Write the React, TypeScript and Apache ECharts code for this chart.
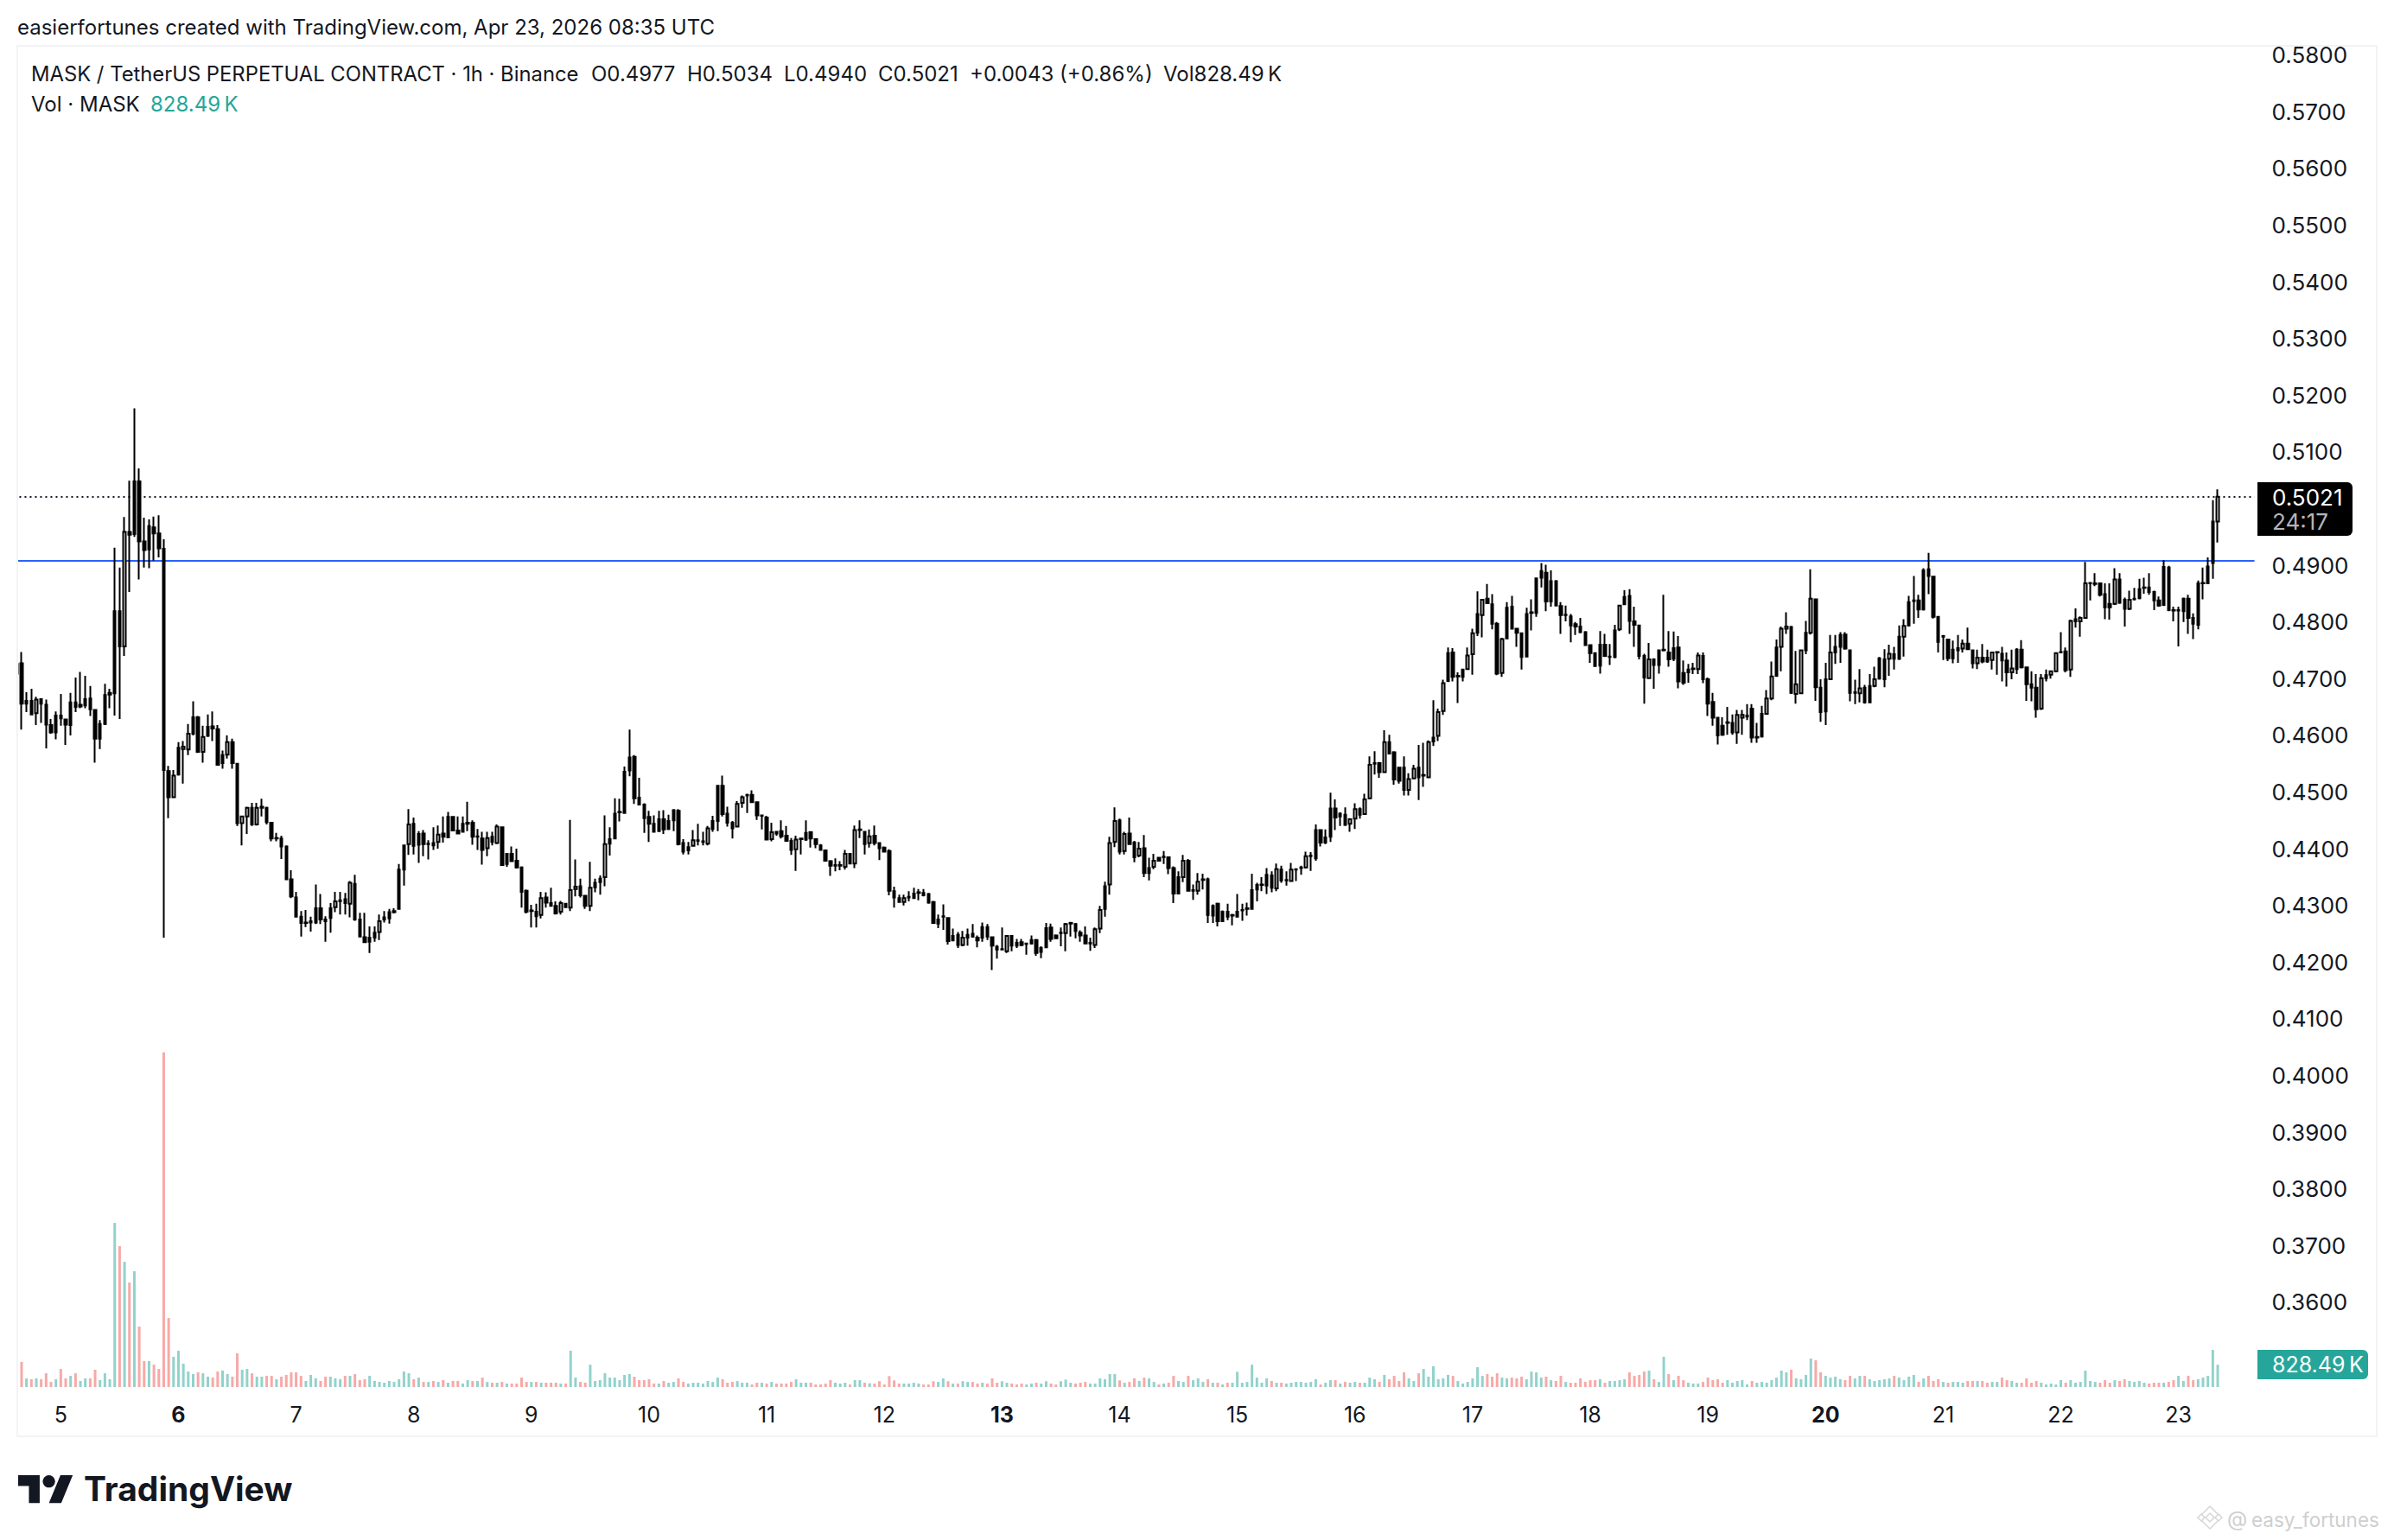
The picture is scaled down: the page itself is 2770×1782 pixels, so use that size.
import React, { useEffect, useRef } from "react";
import * as echarts from "echarts";

// Prices are in units of 0.0001. Each candle: [open, close, low, high]. One array per calendar day (hourly bars).
const PRICE_UNIT = 0.0001;
const apr04 = [[4726,4709,4644,4736],[4727,4656,4610,4747],[4656,4661,4641,4676],[4661,4637,4637,4682],[4639,4663,4618,4668],[4664,4656,4622,4665],[4654,4619,4577,4663],[4618,4605,4603,4629],[4605,4635,4593,4642]];
const apr05 = [[4635,4630,4617,4673],[4628,4619,4583,4628],[4618,4658,4600,4675],[4658,4650,4641,4702],[4651,4654,4648,4712],[4653,4664,4648,4705],[4665,4646,4634,4687],[4645,4594,4552,4646],[4594,4620,4576,4627],[4620,4671,4618,4691],[4672,4675,4648,4682],[4674,4819,4635,4931],[4819,4757,4629,4896],[4757,4959,4740,4985],[4959,4954,4853,5049],[4955,5048,4950,5177],[5048,4942,4875,5071],[4942,4927,4896,4984],[4928,4969,4895,4981],[4967,4956,4908,4986],[4956,4930,4914,4988],[4929,4539,4243,4946],[4537,4491,4454,4546],[4491,4529,4490,4539]];
const apr06 = [[4531,4578,4529,4588],[4576,4580,4515,4590],[4575,4603,4565,4620],[4603,4632,4600,4660],[4632,4571,4569,4634],[4571,4597,4552,4617],[4599,4615,4597,4637],[4616,4612,4590,4642],[4611,4548,4547,4618],[4551,4565,4541,4573],[4566,4588,4559,4600],[4588,4551,4541,4594],[4550,4445,4440,4551],[4445,4457,4406,4457],[4457,4472,4426,4474],[4472,4443,4440,4481],[4443,4472,4441,4481],[4472,4474,4457,4488],[4472,4447,4443,4474],[4446,4418,4413,4447],[4418,4419,4413,4428],[4418,4404,4382,4423],[4404,4346,4345,4406],[4346,4316,4313,4362]];
const apr07 = [[4314,4280,4279,4324],[4280,4269,4245,4290],[4269,4270,4262,4292],[4270,4272,4254,4280],[4270,4295,4267,4337],[4295,4275,4267,4320],[4275,4272,4236,4281],[4278,4295,4252,4304],[4297,4307,4288,4324],[4307,4309,4284,4324],[4311,4304,4284,4322],[4303,4340,4279,4343],[4338,4275,4273,4354],[4275,4245,4245,4287],[4244,4235,4234,4287],[4236,4243,4216,4263],[4243,4252,4236,4263],[4253,4272,4239,4284],[4275,4279,4270,4290],[4277,4288,4268,4294],[4288,4290,4286,4295],[4294,4363,4294,4373],[4363,4406,4335,4406],[4408,4443,4389,4470]];
const apr08 = [[4444,4405,4390,4455],[4407,4426,4375,4431],[4427,4408,4387,4433],[4408,4409,4381,4415],[4410,4406,4398,4438],[4412,4425,4400,4441],[4427,4421,4411,4457],[4420,4456,4419,4465],[4456,4432,4431,4457],[4432,4427,4426,4457],[4430,4444,4429,4457],[4444,4446,4431,4483],[4446,4421,4407,4450],[4421,4422,4398,4435],[4418,4398,4372,4430],[4401,4419,4387,4430],[4421,4412,4406,4430],[4410,4439,4408,4443],[4438,4371,4370,4439],[4373,4391,4368,4392],[4391,4378,4377,4404],[4379,4367,4365,4400],[4367,4324,4296,4369],[4326,4289,4286,4328]];
const apr09 = [[4290,4291,4261,4301],[4289,4281,4261,4303],[4283,4313,4277,4324],[4314,4305,4296,4323],[4304,4299,4298,4331],[4299,4286,4284,4307],[4289,4304,4284,4308],[4303,4297,4296,4304],[4296,4327,4290,4451],[4329,4333,4316,4381],[4334,4318,4314,4347],[4317,4299,4294,4317],[4299,4331,4290,4377],[4332,4340,4323,4347],[4341,4347,4319,4353],[4350,4408,4334,4459],[4409,4417,4388,4438],[4418,4462,4417,4489],[4464,4465,4448,4488],[4463,4536,4462,4545],[4538,4561,4528,4610],[4562,4489,4479,4565],[4490,4478,4477,4525],[4478,4454,4428,4480]];
const apr10 = [[4456,4444,4412,4467],[4444,4430,4429,4459],[4431,4452,4430,4467],[4452,4434,4426,4468],[4435,4449,4433,4460],[4450,4468,4431,4470],[4467,4408,4406,4470],[4410,4395,4390,4417],[4397,4403,4390,4412],[4405,4415,4404,4433],[4414,4415,4406,4444],[4412,4413,4406,4430],[4409,4436,4406,4440],[4435,4449,4430,4458],[4449,4511,4431,4512],[4511,4461,4457,4529],[4462,4446,4439,4474],[4446,4436,4418,4449],[4439,4479,4438,4484],[4481,4491,4472,4494],[4494,4495,4463,4497],[4495,4482,4481,4503],[4482,4459,4451,4482],[4458,4459,4434,4459]];
const apr11 = [[4455,4416,4416,4458],[4417,4429,4413,4446],[4430,4427,4423,4431],[4431,4422,4418,4450],[4423,4414,4413,4440],[4414,4398,4389,4419],[4399,4416,4361,4423],[4417,4418,4390,4419],[4416,4428,4414,4450],[4429,4418,4402,4431],[4417,4408,4401,4418],[4406,4398,4397,4408],[4397,4379,4379,4398],[4378,4370,4352,4380],[4370,4371,4360,4383],[4370,4371,4362,4378],[4368,4391,4363,4398],[4391,4374,4373,4391],[4374,4433,4366,4441],[4433,4434,4419,4450],[4430,4408,4390,4431],[4410,4422,4402,4434],[4423,4410,4406,4441],[4410,4401,4380,4410]];
const apr12 = [[4402,4395,4394,4404],[4396,4326,4318,4399],[4325,4314,4296,4333],[4313,4306,4306,4319],[4306,4313,4300,4319],[4314,4315,4307,4325],[4313,4321,4312,4331],[4322,4323,4309,4329],[4322,4318,4316,4329],[4320,4305,4303,4322],[4306,4269,4269,4308],[4268,4275,4260,4284],[4280,4281,4257,4302],[4278,4237,4231,4279],[4238,4246,4237,4259],[4248,4230,4225,4253],[4230,4243,4228,4255],[4243,4248,4229,4259],[4250,4245,4243,4267],[4243,4238,4226,4247],[4243,4262,4236,4270],[4262,4245,4239,4267],[4244,4229,4186,4245],[4227,4222,4206,4230]];
const apr13 = [[4222,4223,4221,4261],[4219,4246,4216,4247],[4246,4229,4219,4246],[4234,4229,4225,4241],[4235,4230,4228,4241],[4232,4233,4213,4233],[4233,4239,4231,4247],[4239,4216,4211,4241],[4218,4225,4207,4228],[4226,4260,4225,4269],[4261,4241,4236,4268],[4247,4242,4241,4249],[4251,4252,4228,4261],[4251,4267,4219,4269],[4268,4269,4245,4271],[4267,4255,4242,4269],[4252,4247,4236,4256],[4247,4233,4233,4263],[4233,4234,4220,4243],[4230,4258,4225,4261],[4259,4292,4251,4299],[4294,4334,4280,4342],[4337,4410,4319,4421],[4412,4449,4403,4473]];
const apr14 = [[4450,4395,4390,4453],[4396,4426,4390,4430],[4427,4408,4408,4455],[4411,4385,4376,4414],[4388,4400,4385,4412],[4401,4357,4350,4424],[4357,4366,4344,4384],[4368,4379,4364,4391],[4384,4379,4378,4385],[4385,4386,4373,4396],[4385,4366,4355,4385],[4366,4321,4304,4369],[4321,4350,4320,4360],[4350,4379,4341,4389],[4379,4326,4326,4382],[4326,4327,4310,4337],[4326,4342,4319,4357],[4345,4346,4328,4356],[4346,4283,4269,4349],[4282,4299,4269,4302],[4303,4272,4263,4305],[4272,4289,4271,4291],[4289,4280,4274,4303],[4282,4283,4265,4285]];
const apr15 = [[4280,4289,4279,4320],[4291,4292,4273,4303],[4294,4295,4282,4305],[4294,4327,4294,4356],[4328,4336,4307,4340],[4336,4337,4325,4350],[4335,4354,4320,4366],[4353,4331,4323,4360],[4330,4364,4325,4374],[4363,4344,4340,4370],[4344,4345,4335,4360],[4343,4363,4342,4375],[4363,4364,4343,4365],[4366,4367,4354,4370],[4367,4387,4365,4395],[4387,4388,4361,4394],[4383,4433,4379,4443],[4433,4411,4404,4434],[4411,4420,4408,4434],[4421,4471,4412,4499],[4471,4455,4433,4487],[4457,4462,4440,4464],[4460,4442,4440,4473],[4444,4452,4430,4454]];
const apr16 = [[4453,4470,4435,4480],[4470,4460,4453,4473],[4461,4487,4460,4497],[4489,4548,4487,4563],[4550,4551,4531,4572],[4551,4535,4525,4553],[4535,4588,4534,4609],[4588,4568,4568,4601],[4570,4522,4513,4572],[4543,4520,4515,4543],[4543,4504,4494,4563],[4504,4523,4494,4533],[4524,4541,4523,4548],[4543,4526,4486,4583],[4529,4530,4509,4587],[4526,4588,4525,4591],[4589,4596,4581,4662],[4599,4641,4590,4647],[4643,4692,4636,4698],[4696,4745,4694,4755],[4746,4703,4695,4754],[4704,4705,4657,4711],[4703,4716,4695,4716],[4717,4741,4716,4755]];
const apr17 = [[4743,4780,4707,4788],[4781,4814,4775,4854],[4812,4839,4773,4840],[4841,4833,4833,4867],[4831,4797,4787,4849],[4797,4709,4706,4800],[4710,4770,4703,4772],[4771,4825,4771,4835],[4827,4788,4787,4846],[4788,4781,4756,4788],[4780,4738,4716,4780],[4739,4814,4738,4825],[4816,4817,4785,4840],[4816,4877,4809,4878],[4878,4890,4861,4904],[4887,4836,4819,4901],[4836,4872,4827,4891],[4872,4829,4829,4874],[4828,4812,4779,4835],[4812,4813,4801,4829],[4810,4794,4764,4814],[4796,4792,4777,4800],[4792,4782,4780,4807],[4782,4759,4759,4784]];
const apr18 = [[4759,4745,4728,4759],[4745,4722,4721,4746],[4723,4760,4709,4784],[4760,4740,4738,4779],[4738,4739,4724,4761],[4738,4785,4736,4795],[4787,4829,4784,4830],[4831,4844,4831,4856],[4846,4802,4779,4858],[4801,4795,4756,4827],[4794,4740,4734,4795],[4740,4702,4656,4744],[4701,4734,4700,4763],[4734,4724,4682,4736],[4724,4750,4709,4751],[4750,4751,4748,4848],[4746,4734,4721,4784],[4735,4754,4731,4783],[4755,4695,4683,4775],[4710,4693,4689,4732],[4711,4716,4693,4726],[4717,4718,4708,4728],[4717,4741,4708,4746],[4740,4699,4692,4746]];
const apr19 = [[4699,4656,4634,4702],[4659,4631,4617,4675],[4631,4600,4584,4632],[4617,4601,4599,4632],[4622,4623,4601,4650],[4605,4622,4601,4637],[4605,4636,4585,4645],[4631,4636,4601,4645],[4633,4635,4627,4655],[4647,4596,4587,4655],[4596,4597,4587,4622],[4598,4638,4596,4652],[4638,4665,4637,4680],[4665,4704,4662,4730],[4705,4755,4703,4769],[4756,4788,4713,4792],[4788,4792,4779,4817],[4791,4675,4673,4793],[4673,4690,4656,4749],[4674,4750,4673,4751],[4750,4781,4743,4802],[4781,4841,4778,4893],[4840,4685,4661,4841],[4684,4641,4624,4699]];
const apr20 = [[4642,4699,4618,4728],[4699,4746,4698,4777],[4746,4756,4726,4777],[4756,4777,4728,4782],[4778,4753,4751,4782],[4750,4675,4660,4751],[4675,4676,4655,4698],[4674,4683,4658,4717],[4684,4658,4656,4689],[4658,4687,4657,4708],[4687,4699,4685,4721],[4700,4736,4698,4738],[4699,4734,4685,4752],[4735,4744,4705,4760],[4743,4735,4716,4756],[4735,4774,4733,4794],[4774,4793,4739,4805],[4794,4835,4792,4846],[4837,4838,4797,4881],[4838,4822,4807,4848],[4822,4891,4820,4895],[4893,4881,4849,4922],[4880,4809,4806,4881],[4809,4765,4746,4810]];
const apr21 = [[4774,4775,4733,4777],[4769,4736,4731,4769],[4736,4751,4727,4767],[4750,4754,4728,4777],[4753,4762,4746,4769],[4762,4752,4751,4790],[4750,4727,4718,4751],[4727,4737,4717,4751],[4737,4730,4727,4761],[4737,4730,4728,4751],[4733,4746,4716,4747],[4746,4747,4707,4747],[4744,4732,4695,4756],[4732,4711,4686,4746],[4711,4718,4699,4751],[4717,4751,4708,4754],[4751,4720,4718,4768],[4720,4690,4661,4721],[4690,4684,4660,4713],[4684,4646,4631,4708],[4647,4701,4645,4708],[4701,4706,4695,4716],[4707,4713,4700,4713],[4713,4745,4711,4746]];
const apr22 = [[4746,4747,4746,4782],[4748,4715,4711,4755],[4716,4802,4703,4804],[4801,4805,4790,4824],[4801,4807,4774,4810],[4807,4868,4806,4906],[4868,4869,4838,4869],[4867,4868,4863,4886],[4868,4848,4845,4869],[4849,4826,4805,4868],[4832,4826,4804,4868],[4832,4875,4830,4895],[4875,4834,4832,4886],[4839,4823,4792,4843],[4823,4839,4821,4855],[4840,4841,4838,4860],[4842,4858,4840,4876],[4860,4861,4850,4878],[4861,4853,4848,4886],[4853,4838,4821,4855],[4838,4829,4827,4845],[4830,4897,4828,4909],[4896,4821,4819,4899],[4821,4820,4801,4827]];
const apr23 = [[4820,4821,4757,4827],[4819,4841,4800,4843],[4841,4807,4779,4848],[4807,4797,4770,4815],[4795,4868,4787,4873],[4868,4869,4840,4896],[4868,4898,4868,4914],[4904,4977,4876,5015],[4977,5021,4940,5034]];

// Volume in thousands of MASK, one per hourly bar.
const volumesK = [
  820,930,320,290,320,290,510,190,290,670,320,415,510,225,320,320,640,255,510,290,
  6080,5220,4640,3870,4290,2240,960,960,830,670,12400,2560,1120,1345,865,575,480,545,510,385,
  350,575,610,480,385,1250,640,670,510,385,385,415,415,290,385,450,545,545,415,225,
  450,320,225,385,385,320,290,415,415,480,255,290,415,225,190,160,225,190,290,575,
  510,290,350,190,190,225,190,255,160,225,225,130,255,225,225,350,190,160,160,190,
  130,130,130,350,190,190,190,160,160,160,160,130,130,1345,350,190,160,830,225,255,
  510,350,350,255,450,480,385,255,255,290,130,130,225,160,190,320,190,130,160,160,
  130,225,190,350,290,160,190,225,160,160,95,160,160,130,190,130,130,130,190,290,
  160,160,160,95,95,130,255,160,130,160,95,255,255,
  160,140,130,215,95,405,245,130,130,130,160,130,95,95,215,190,320,215,130,130,
  215,190,190,130,160,130,320,160,215,160,130,95,130,95,130,160,130,215,130,95,
  215,275,160,130,160,190,130,130,320,290,480,480,245,160,190,320,225,350,320,190,
  95,130,160,415,225,190,415,255,320,190,290,160,160,95,160,160,565,160,190,830,
  350,160,320,225,160,160,130,160,190,190,160,190,290,95,160,255,255,130,190,160,
  190,160,160,350,290,190,450,290,415,225,545,320,225,510,670,385,770,290,320,450,
  415,225,130,190,320,735,415,480,385,510,350,320,350,320,385,290,575,545,350,385,
  255,225,415,190,160,160,320,190,255,255,290,160,225,225,255,290,545,415,450,
  575,610,290,190,1120,480,255,415,255,160,130,130,190,350,255,290,160,255,160,225,
  255,95,225,160,190,160,255,350,610,545,640,320,290,450,1055,990,545,415,350,385,
  290,255,415,320,415,415,290,225,255,290,320,415,350,255,385,450,190,320,415,225,
  290,190,160,190,190,160,225,225,225,225,160,190,190,350,255,225,160,160,320,160,
  225,160,95,130,95,255,160,255,160,190,610,225,190,160,255,160,255,225,290,225,
  190,225,160,130,160,160,160,190,255,415,225,415,255,290,350,415,1375,828.49,
];

const dayLabels = ["5","6","7","8","9","10","11","12","13","14","15","16","17","18","19","20","21","22","23"];
const boldDays = ["6","13","20"];
const priceTicks = { min: 0.36, max: 0.58, step: 0.01 };
const hiddenPriceTick = "0.5000"; // covered by the last-price badge in the reference
const resistanceLevel = 0.4908;
const lastPrice = 0.5021;
const FUTURE_BARS = 7;
const FIRST_MIDNIGHT = 9;
const volumeMaxK = 12400;

const FONT = "Inter, 'Noto Sans', sans-serif";
const INK = "#131722";
const BAND = 5.672;

const candles = [apr04,apr05,apr06,apr07,apr08,apr09,apr10,apr11,apr12,apr13,apr14,apr15,apr16,apr17,apr18,apr19,apr20,apr21,apr22,apr23]
  .flat()
  .map((c) => c.map((v) => +(v * PRICE_UNIT).toFixed(4)));
const total = candles.length + FUTURE_BARS;
const categories = Array.from({ length: total }, (_, i) => {
  const k = i - FIRST_MIDNIGHT;
  return k >= 0 && k % 24 === 0 ? dayLabels[k / 24] ?? "" : "";
});

echarts.graphic.registerShape(
  "tvLogo",
  echarts.graphic.extendPath("M14 22H7V11H0V4h14v18zM28 22h-8l7.5-18h8L28 22z", {}) as any
);

function txt(text: string, x: number, y: number, size: number, fill: string, weight = 400, z = 50) {
  return {
    type: "text",
    z,
    style: { text, x, y, fill, font: `${weight} ${size}px ${FONT}`, textVerticalAlign: "middle", textAlign: "left" },
  };
}

const diamond = (cx: number, cy: number, r: number) => ({
  type: "polygon",
  z: 50,
  shape: { points: [[cx, cy - r], [cx + r, cy], [cx, cy + r], [cx - r, cy]] },
  style: { fill: "#ffffff", stroke: "#d6d6d6", lineWidth: 1.5 },
});

export default function App() {
  const ref = useRef<HTMLDivElement>(null);
  useEffect(() => {
    document.body.style.margin = "0";
    document.body.style.background = "#ffffff";
    const chart = echarts.init(ref.current!, undefined, { renderer: "svg" });
    const left = 16.46;
    const width = total * BAND;
    const option: any = {
      animation: false,
      backgroundColor: "#ffffff",
      grid: [
        { left, width, top: 63.7, height: 1443.2, containLabel: false },
        { left, width, top: 1217.7, height: 387.3, containLabel: false },
      ],
      xAxis: [
        { type: "category", gridIndex: 0, data: categories, axisLine: { show: false }, axisTick: { show: false }, axisLabel: { show: false }, splitLine: { show: false } },
        {
          type: "category",
          gridIndex: 1,
          data: categories,
          axisLine: { show: false },
          axisTick: { show: false },
          splitLine: { show: false },
          axisLabel: {
            interval: (i: number) => categories[i] !== "",
            margin: 19,
            fontFamily: FONT,
            fontSize: 25,
            color: INK,
            hideOverlap: false,
            showMinLabel: true,
            showMaxLabel: true,
            formatter: (v: string) => (boldDays.includes(v) ? `{b|${v}}` : v),
            rich: { b: { fontWeight: 700, fontFamily: FONT, fontSize: 25, color: INK } },
          },
        },
      ],
      yAxis: [
        {
          type: "value",
          gridIndex: 0,
          position: "right",
          min: priceTicks.min,
          max: priceTicks.max,
          interval: priceTicks.step,
          axisLine: { show: false },
          axisTick: { show: false },
          splitLine: { show: false },
          axisLabel: {
            margin: 20,
            fontFamily: FONT,
            fontSize: 26,
            color: INK,
            padding: [2, 0, 0, 0],
            formatter: (v: number) => (v.toFixed(4) === hiddenPriceTick ? "" : v.toFixed(4)),
          },
        },
        { type: "value", gridIndex: 1, min: 0, max: volumeMaxK, show: false, splitLine: { show: false } },
      ],
      series: [
        {
          type: "bar",
          xAxisIndex: 1,
          yAxisIndex: 1,
          barWidth: 3,
          z: 1,
          data: volumesK.map((v, i) => ({
            value: v,
            itemStyle: { color: candles[i][1] >= candles[i][0] ? "#92d2cc" : "#f7a9a7" },
          })),
        },
        {
          type: "candlestick",
          xAxisIndex: 0,
          yAxisIndex: 0,
          barWidth: 3,
          z: 3,
          itemStyle: { color: "#ffffff", color0: "#000000", borderColor: "#000000", borderColor0: "#000000", borderWidth: 2 },
          data: candles,
          markLine: {
            silent: true,
            z: 2,
            precision: 4,
            symbol: "none",
            label: { show: false },
            data: [
              { yAxis: resistanceLevel, lineStyle: { color: "#2962ff", width: 2, type: "solid" } },
              { yAxis: lastPrice, lineStyle: { color: "#131722", width: 2, type: [2, 4] } },
            ],
          },
        },
      ],
      graphic: [
        // masks the part of the clipped first bar that falls outside the pane
        { type: "rect", z: 40, shape: { x: 0, y: 53, width: 19, height: 1609 }, style: { fill: "#ffffff" } },
        { type: "rect", z: 41, shape: { x: 20, y: 53, width: 2730, height: 1609 }, style: { fill: "none", stroke: "#f2f3f5", lineWidth: 2 } },
        txt("easierfortunes created with TradingView.com, Apr 23, 2026 08:35 UTC", 20, 31, 24, INK),
        txt("MASK / TetherUS PERPETUAL CONTRACT · 1h · Binance", 36, 85, 23.8, INK),
        txt("O0.4977", 684, 85, 24, INK),
        txt("H0.5034", 795, 85, 24, INK),
        txt("L0.4940", 907, 85, 24, INK),
        txt("C0.5021", 1016, 85, 24, INK),
        txt("+0.0043 (+0.86%)", 1122, 85, 24, INK),
        txt("Vol828.49\u202fK", 1346, 85, 24, INK),
        txt("Vol · MASK", 36, 120, 24, INK),
        txt("828.49\u202fK", 174, 120, 24, "#26a69a"),
        { type: "rect", z: 60, shape: { x: 2612, y: 558, width: 110, height: 62, r: [0, 6, 6, 0] }, style: { fill: "#000000" } },
        txt("0.5021", 2629, 575, 26, "#ffffff", 400, 61),
        txt("24:17", 2629, 603, 26, "#b2b5be", 400, 61),
        { type: "rect", z: 60, shape: { x: 2612, y: 1562, width: 128, height: 34, r: [0, 6, 6, 0] }, style: { fill: "#26a69a" } },
        txt("828.49\u202fK", 2629, 1579, 25, "#ffffff", 400, 61),
        { type: "tvLogo", z: 50, x: 21, y: 1700, scaleX: 1.78, scaleY: 1.78, style: { fill: INK } },
        { type: "circle", z: 50, shape: { cx: 21 + 20 * 1.78, cy: 1700 + 8 * 1.78, r: 4 * 1.78 }, style: { fill: INK } },
        txt("TradingView", 97, 1722, 39, INK, 700),
        diamond(2557, 1756, 13),
        diamond(2547, 1756, 4),
        diamond(2567, 1756, 4),
        diamond(2557, 1756, 5),
        txt("@", 2577, 1757, 24, "#cfcfcf"),
        txt("easy_fortunes", 2605, 1758, 22.5, "#cfcfcf"),
      ],
    };
    chart.setOption(option);
    return () => chart.dispose();
  }, []);
  return <div ref={ref} style={{ width: 2770, height: 1782, position: "absolute", left: 0, top: 0 }} />;
}
